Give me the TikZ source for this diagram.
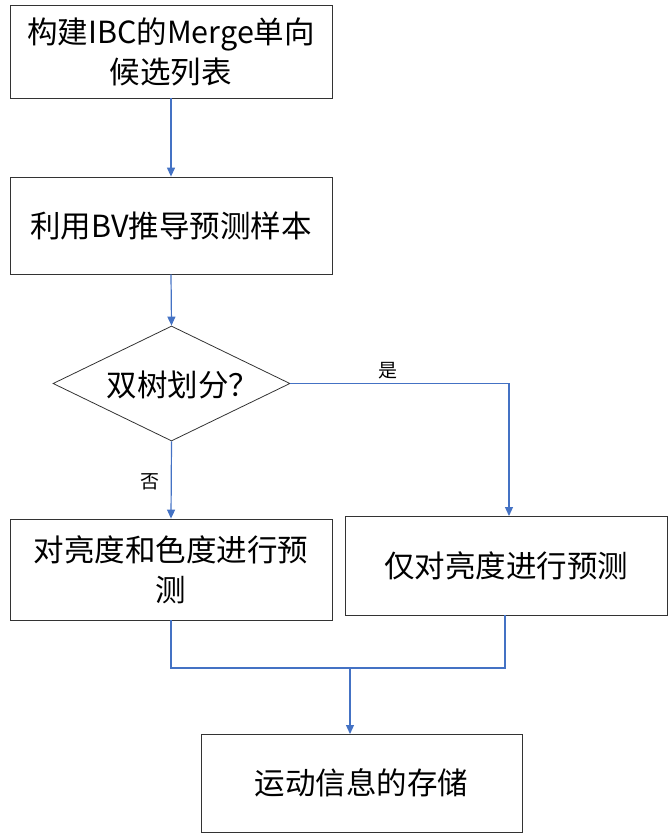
\documentclass[tikz,border=0pt]{standalone}
\usepackage{fontspec}
\setmainfont{Noto Sans CJK SC}
\usetikzlibrary{shapes.geometric,arrows.meta}
\begin{document}
\begin{tikzpicture}[x=1pt,y=-1pt,
  box/.style={draw=black!80,line width=0.8pt,align=center,font=\fontsize{30.5}{40}\selectfont,inner sep=0pt},
  ln/.style={draw={rgb,255:red,68;green,114;blue,196},line width=1.2pt},
  arr/.style={ln,-{Triangle[length=9pt,width=8pt]}},
  lbl/.style={font=\fontsize{19}{22}\selectfont}]
\useasboundingbox (0,0) rectangle (670,836);
\node[box,minimum width=322pt,minimum height=93pt] (b1) at (171,51.5) {构建IBC的Merge单向\\候选列表};
\node[box,minimum width=322pt,minimum height=97pt] (b2) at (171,225.5) {利用BV推导预测样本};
\node[box,diamond,aspect=2.06,minimum width=237pt,minimum height=115pt,inner sep=0pt] (d) at (171.5,383.5) {};
\node[font=\fontsize{30.5}{36}\selectfont] at (183,385) {双树划分？};
\node[box,minimum width=322pt,minimum height=101pt] (b3) at (171,569.5) {对亮度和色度进行预\\测};
\node[box,minimum width=322pt,minimum height=99pt] (b4) at (506,565.5) {仅对亮度进行预测};
\node[box,minimum width=321pt,minimum height=98pt] (b5) at (361.5,783) {运动信息的存储};
\coordinate (m) at (350,668);
\draw[arr] (b1.south) -- (b2.north);
\draw[arr] (b2.south) -- (d.north);
\draw[arr] (d.south) -- (b3.north);
\draw[arr] (d.east) -| (509,516);
\draw[ln] (b3.south) |- (505,668) -- (505,615);
\draw[arr] (m) -- (350,734);
\node[lbl] at (388,371) {是};
\node[lbl] at (150,482) {否};
\end{tikzpicture}
\end{document}
